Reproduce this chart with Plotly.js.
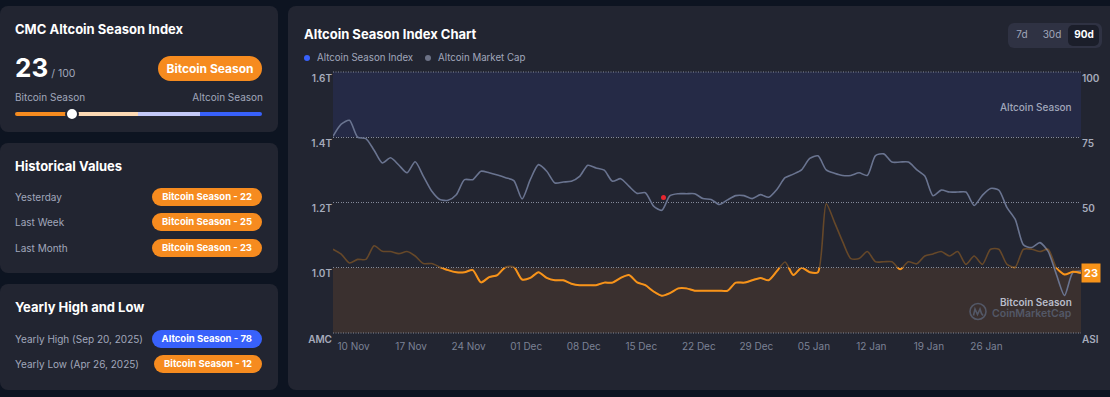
<!DOCTYPE html>
<html>
<head>
<meta charset="utf-8">
<script src="https://cdn.plot.ly/plotly-3.0.1.min.js"></script>
<style>
html,body{margin:0;padding:0;background:#0d1421;width:1110px;height:397px;overflow:hidden;font-family:Inter,"Noto Sans",sans-serif;}
.card{position:absolute;background:#222531;border-radius:8px;}
.t{position:absolute;white-space:nowrap;}
.title{font-size:13px;font-weight:700;color:#fff;line-height:16px;left:15px;top:15px;}
.lbl{font-size:10px;color:#a1a7bb;line-height:14px;left:15px;}
.pill{position:absolute;right:16px;height:18px;line-height:18px;padding:0 10px;border-radius:9px;color:#fff;font-size:9.5px;font-weight:700;background:#F68B1F;white-space:nowrap;}
.seg{position:absolute;height:4px;top:106px;}
</style>
</head>
<body>
<!-- Card 1 -->
<div class="card" style="left:0;top:6px;width:278px;height:126px;">
  <div class="t title">CMC Altcoin Season Index</div>
  <div class="t" style="left:15px;top:49px;line-height:26px;font-size:26px;font-weight:700;color:#fff;"><span id="curVal"></span><span style="font-size:10.5px;font-weight:400;color:#a1a7bb;margin-left:3px;">/ 100</span></div>
  <div class="t" style="left:158px;top:50px;width:104px;height:25px;border-radius:13px;background:#F68B1F;color:#fff;font-size:12px;font-weight:700;line-height:25px;text-align:center;">Bitcoin Season</div>
  <div class="t lbl" style="top:84px;">Bitcoin Season</div>
  <div class="t lbl" style="top:84px;left:auto;right:15px;">Altcoin Season</div>
  <div class="seg" style="left:15px;width:62px;background:#F68B1F;border-radius:2px 0 0 2px;"></div>
  <div class="seg" style="left:77px;width:61px;background:#FDDAB4;"></div>
  <div class="seg" style="left:138px;width:62px;background:#C3C9F8;"></div>
  <div class="seg" style="left:200px;width:62px;background:#3861FB;border-radius:0 2px 2px 0;"></div>
  <div id="knob" style="position:absolute;top:101px;left:65px;width:10px;height:10px;border-radius:50%;background:#fff;border:2px solid #222531;"></div>
</div>
<!-- Card 2 -->
<div class="card" style="left:0;top:143px;width:278px;height:130px;">
  <div class="t title">Historical Values</div>
  <div class="t lbl" style="top:47px;">Yesterday</div>
  <div class="pill" style="top:45px;">Bitcoin Season - 22</div>
  <div class="t lbl" style="top:72px;">Last Week</div>
  <div class="pill" style="top:70px;">Bitcoin Season - 25</div>
  <div class="t lbl" style="top:98px;">Last Month</div>
  <div class="pill" style="top:96px;">Bitcoin Season - 23</div>
</div>
<!-- Card 3 -->
<div class="card" style="left:0;top:284px;width:278px;height:106px;">
  <div class="t title">Yearly High and Low</div>
  <div class="t lbl" style="top:48px;">Yearly High (Sep 20, 2025)</div>
  <div class="pill" style="top:46px;background:#3861FB;">Altcoin Season - 78</div>
  <div class="t lbl" style="top:73px;">Yearly Low (Apr 26, 2025)</div>
  <div class="pill" style="top:71px;">Bitcoin Season - 12</div>
</div>
<!-- Chart card -->
<div class="card" style="left:288px;top:6px;width:840px;height:384px;">
  <div class="t" style="left:16px;top:20px;font-size:13px;font-weight:700;color:#fff;line-height:16px;">Altcoin Season Index Chart</div>
  <div style="position:absolute;left:16px;top:49px;width:6px;height:6px;border-radius:50%;background:#3861FB;"></div>
  <div class="t" style="left:29px;top:45px;font-size:9.7px;color:#a1a7bb;line-height:14px;">Altcoin Season Index</div>
  <div style="position:absolute;left:137px;top:49px;width:6px;height:6px;border-radius:50%;background:#6c7286;"></div>
  <div class="t" style="left:150px;top:45px;font-size:9.7px;color:#a1a7bb;line-height:14px;">Altcoin Market Cap</div>
  <div style="position:absolute;left:720px;top:17px;width:94px;height:25px;border-radius:6px;background:#2f3243;"></div>
  <div style="position:absolute;left:780px;top:19px;width:31px;height:21px;border-radius:5px;background:#1b1e2a;"></div>
  <div class="t" style="left:724px;top:22px;width:20px;text-align:center;font-size:10px;color:#a1a7bb;line-height:13px;">7d</div>
  <div class="t" style="left:751px;top:22px;width:26px;text-align:center;font-size:10px;color:#a1a7bb;line-height:13px;">30d</div>
  <div class="t" style="left:781px;top:22px;width:30px;text-align:center;font-size:10px;font-weight:700;color:#fff;line-height:13px;">90d</div>
</div>
<div id="chart" style="position:absolute;left:288px;top:62px;width:822px;height:328px;"></div>
<script>
// ---- data ----
const startDay = Date.UTC(2025, 10, 7, 12); // first daily sample, 7 Nov 2025
const marketCapT = [
  1.403,1.44,1.452,1.40,1.396,1.36,1.321,1.337,1.315,1.291,1.325,1.28,1.235,1.209,1.207,1.224,1.27,1.27,1.296,1.291,1.284,1.276,1.267,1.211,
  1.27,1.316,1.296,1.26,1.263,1.265,1.28,1.314,1.306,1.299,1.265,1.273,1.25,1.228,1.23,1.189,1.176,1.221,1.227,1.227,1.227,1.212,1.209,1.194,1.208,1.221,1.221,1.212,1.224,1.216,1.24,
  1.276,1.287,1.30,1.335,1.343,1.30,1.29,1.283,1.283,1.291,1.283,1.344,1.349,1.324,1.324,1.324,1.301,1.281,1.221,1.238,1.232,1.232,1.232,1.191,1.222,1.243,1.238,1.184,1.148,1.07,1.062,
  1.077,1.05,0.98,0.915,0.985,0.99
];
const seasonIndex = [
  32.1,30.2,26.8,28.2,28.2,33.4,31.3,31.2,30.4,31.2,29.5,26.6,26.6,25.3,24.1,23.3,23.3,24.1,19.4,21.4,22.2,25.3,25.3,20.5,
  21.1,23.3,21.1,20.2,20.2,18.9,18.3,18.3,18.3,19.3,19.3,21.1,22.2,19.4,18.3,15.9,14.3,15.3,17.1,17.1,16.2,16.2,16.2,16.2,16.2,19.3,19.3,20.2,21.1,20.2,23.7,
  27.2,22.2,25.0,23.3,23.3,49.5,42.5,35.0,28.5,28.5,31.2,27.3,27.3,27.3,24.4,27.3,26.5,29.5,30.3,31.2,29.5,31.2,26.3,29.5,26.3,32.1,32.1,26.3,25.3,32.1,32.1,
  31.2,32.1,25.0,22.4,23.5,23
];
const eventDates = ['2025-12-17 17:00'];
const eventMarketCapT = [1.215];
const xTickDates = ['2025-11-10','2025-11-17','2025-11-24','2025-12-01','2025-12-08','2025-12-15','2025-12-22','2025-12-29','2026-01-05','2026-01-12','2026-01-19','2026-01-26'];
const xTickText = ['10 Nov','17 Nov','24 Nov','01 Dec','08 Dec','15 Dec','22 Dec','29 Dec','05 Jan','12 Jan','19 Jan','26 Jan'];
const leftTickVals = [0.8, 1.0, 1.2, 1.4, 1.6];
const leftTickText = ['AMC', '1.0T', '1.2T', '1.4T', '1.6T'];
const rightTickVals = [0, 50, 75, 100];          // the 25 label sits under the current-value badge
const rightTickText = ['ASI', '50', '75', '100'];
const bitcoinSeasonMax = 25, altcoinSeasonMin = 75;

const dates = marketCapT.map((_, i) => new Date(startDay + i * 864e5).toISOString().slice(0, 16).replace('T', ' '));
const current = seasonIndex[seasonIndex.length - 1];
document.getElementById('curVal').textContent = String(current);
document.getElementById('knob').style.left = (15 + current / 100 * 247 - 7) + 'px';

const FONT = 'Inter, "Noto Sans", sans-serif';
const spl = {shape: 'spline', smoothing: 0.7};
const traces = [
  {x: dates, y: marketCapT, yaxis: 'y', type: 'scatter', mode: 'lines', name: 'Altcoin Market Cap',
   line: Object.assign({color: '#6a7490', width: 1.6}, spl), hoverinfo: 'skip'},
  {x: dates, y: seasonIndex, yaxis: 'y2', type: 'scatter', mode: 'lines', name: 'Altcoin Season Index',
   line: Object.assign({color: 'rgba(247,147,26,0.32)', width: 1.6}, spl), hoverinfo: 'skip'},
  {x: dates, y: seasonIndex, xaxis: 'x', yaxis: 'y3', type: 'scatter', mode: 'lines', name: 'ASI (Bitcoin Season)',
   line: Object.assign({color: '#F7931A', width: 2}, spl), hoverinfo: 'skip'},
  {x: eventDates, y: eventMarketCapT, yaxis: 'y', type: 'scatter', mode: 'markers',
   marker: {color: '#e8262f', size: 5}, hoverinfo: 'skip'}
];
const tickFont = {family: FONT, size: 10, color: '#a6abbb', weight: 600};
const gridDash = '1px,1.5px', gridColor = '#858a99';
const layout = {
  width: 822, height: 328,
  margin: {l: 45, r: 29, t: 10, b: 57},
  paper_bgcolor: 'rgba(0,0,0,0)', plot_bgcolor: 'rgba(0,0,0,0)',
  showlegend: false,
  font: {family: FONT},
  xaxis: {type: 'date', range: [dates[0], dates[dates.length - 1]], tickmode: 'array', tickvals: xTickDates, ticktext: xTickText,
          showgrid: false, zeroline: false, showline: false, ticks: '',
          tickfont: {family: FONT, size: 10, color: '#7c8295'}, ticklabelstandoff: 6, fixedrange: true},
  yaxis: {range: [0.8, 1.6], tickvals: leftTickVals, ticktext: leftTickText, showgrid: true, gridcolor: gridColor, gridwidth: 1,
          griddash: gridDash, zeroline: false, showline: false, ticks: '', tickfont: tickFont, ticklabelshift: 6, domain: [0, 1]},
  yaxis2: {overlaying: 'y', side: 'right', range: [0, 100], tickvals: rightTickVals, ticktext: rightTickText, showgrid: false,
           zeroline: false, showline: false, ticks: '', tickfont: tickFont, ticklabelshift: 6},
  yaxis3: {domain: [0, 0.25], range: [0, bitcoinSeasonMax], anchor: 'x', visible: false, showgrid: false, zeroline: false},
  shapes: [
    {type: 'rect', xref: 'paper', x0: 0, x1: 1, yref: 'y2', y0: altcoinSeasonMin, y1: 100, fillcolor: '#252a46', line: {width: 0}, layer: 'below'},
    {type: 'rect', xref: 'paper', x0: 0, x1: 1, yref: 'y2', y0: 0, y1: bitcoinSeasonMax, fillcolor: '#3a302f', line: {width: 0}, layer: 'below'},
    {type: 'line', xref: 'paper', x0: 0, x1: 1, yref: 'paper', y0: 1, y1: 1, line: {color: gridColor, width: 1, dash: gridDash}, layer: 'below'},
    {type: 'line', xref: 'paper', x0: 0, x1: 1, yref: 'paper', y0: 0, y1: 0, line: {color: gridColor, width: 1, dash: gridDash}, layer: 'below'},
    {type: 'circle', xref: 'paper', yref: 'paper', xsizemode: 'pixel', ysizemode: 'pixel', xanchor: 1, yanchor: 0,
     x0: -111, x1: -95, y0: 13.5, y1: 29.5, line: {color: '#535867', width: 1.6}, layer: 'above'},
    {type: 'path', xref: 'paper', yref: 'paper', xsizemode: 'pixel', ysizemode: 'pixel', xanchor: 1, yanchor: 0,
     path: 'M -107.5,17.5 L -106,24 L -103.5,18.5 L -101,24 L -99.5,19.5 L -98,17.5', line: {color: '#535867', width: 1.6}, layer: 'above'}
  ],
  annotations: [
    {xref: 'paper', x: 1, xanchor: 'left', yref: 'y2', y: current, yanchor: 'middle', text: '<b>' + current + '</b>',
     showarrow: false, bgcolor: '#F7931A', borderpad: 2, font: {family: FONT, size: 11, color: '#fff'}},
    {xref: 'paper', x: 1, xanchor: 'right', xshift: -7, yref: 'y2', y: (altcoinSeasonMin + 100) / 2, yshift: -2, yanchor: 'middle',
     text: 'Altcoin Season', showarrow: false, font: {family: FONT, size: 10, color: '#a1a7bb', weight: 500}},
    {xref: 'paper', x: 1, xanchor: 'right', xshift: -7, yref: 'paper', y: 0.118, yanchor: 'middle',
     text: 'Bitcoin Season', showarrow: false, font: {family: FONT, size: 10, color: '#b9bdca', weight: 600}},
    {xref: 'paper', x: 1, xanchor: 'right', xshift: -7, yref: 'paper', y: 0.076, yanchor: 'middle',
     text: 'CoinMarketCap', showarrow: false, font: {family: FONT, size: 10.5, color: '#535867', weight: 600}}
  ]
};
Plotly.newPlot('chart', traces, layout, {displayModeBar: false, staticPlot: true});
</script>
</body>
</html>
